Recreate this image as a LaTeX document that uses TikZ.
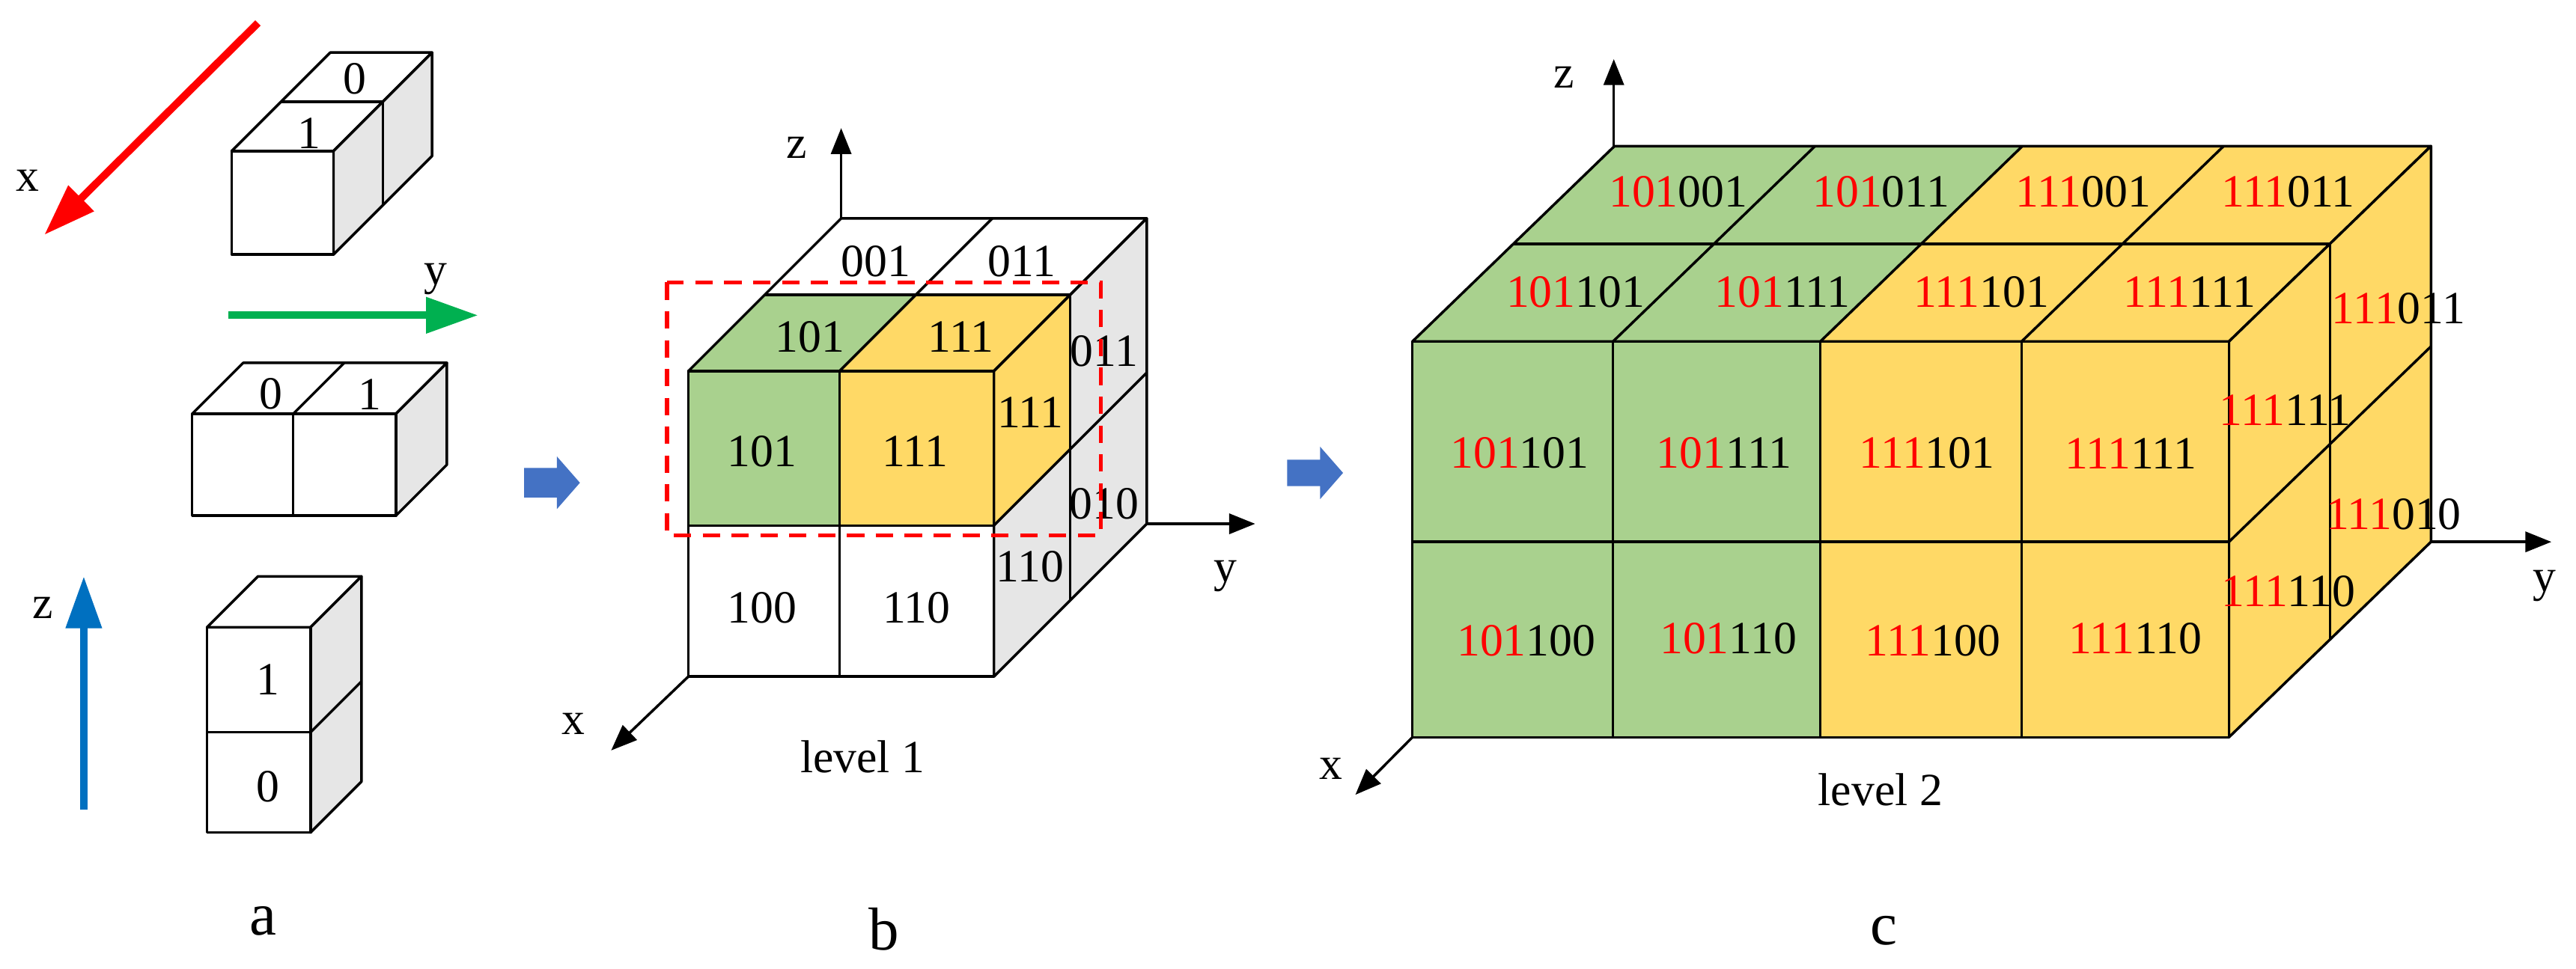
\documentclass[tikz,border=0pt]{standalone}
\usepackage{fontspec}
\setmainfont{Liberation Serif}
\usetikzlibrary{arrows.meta}
\definecolor{cgreen}{HTML}{A9D18E}
\definecolor{cyel}{HTML}{FFD966}
\definecolor{cgray}{HTML}{E6E6E6}
\definecolor{cblue}{HTML}{4472C4}
\definecolor{agreen}{HTML}{00B050}
\definecolor{ablue}{HTML}{0070C0}
\newcommand{\rd}[1]{\textcolor{red}{#1}}
\begin{document}
\begin{tikzpicture}[x=0.02cm,y=-0.02cm,
  ln/.style={draw=black,line width=0.9pt,line join=round},
  lb/.style={font=\fontsize{16}{17}\selectfont,inner sep=0pt},
  big/.style={font=\fontsize{21}{22}\selectfont,inner sep=0pt},
  ax/.style={line width=0.9pt,-{Triangle[length=9pt,width=7pt]}},
  col/.style={line width=2.6pt,-{Triangle[length=18pt,width=12pt]}},
  blk/.style={fill=cblue,draw=none}]
\useasboundingbox (0,0) rectangle (1568,590);
% ---------- panel a ----------
\coordinate (xr0) at (157,14); \coordinate (xr1) at (27,143);
\draw[col,red] (xr0) -- (xr1);
\node[lb] (ax1) at (17,110) {x};
\draw[ln,fill=white] (141,92) -- (203,92) -- (263,32) -- (201,32) -- cycle;
\draw[ln] (171,62) -- (233,62);
\draw[ln,fill=cgray] (203,92) -- (263,32) -- (263,95) -- (203,155) -- cycle;
\draw[ln] (233,62) -- (233,125);
\draw[ln,fill=white] (141,92) rectangle (203,155);
\node[lb] (a1) at (188,81) {1};
\node[lb] (a0) at (216,48) {0};
\coordinate (yg0) at (139,192); \coordinate (yg1) at (291,192);
\draw[col,agreen] (yg0) -- (yg1);
\node[lb] (ay1) at (265,170) {y};
\draw[ln,fill=white] (117,252) -- (241,252) -- (272,221) -- (148,221) -- cycle;
\draw[ln] (178.5,252) -- (209.5,221);
\draw[ln,fill=cgray] (241,252) -- (272,221) -- (272,283) -- (241,314) -- cycle;
\draw[ln,fill=white] (117,252) rectangle (241,314);
\draw[ln] (178.5,252) -- (178.5,314);
\node[lb] (b0) at (165,240) {0};
\node[lb] (b1) at (225,240) {1};
\coordinate (zb0) at (51,493); \coordinate (zb1) at (51,351);
\draw[col,ablue] (zb0) -- (zb1);
\node[lb] (az1) at (26,370) {z};
\draw[ln,fill=white] (126,382) -- (189,382) -- (220,351) -- (157,351) -- cycle;
\draw[ln,fill=cgray] (189,382) -- (220,351) -- (220,476) -- (189,507) -- cycle;
\draw[ln] (189,446) -- (220,415);
\draw[ln,fill=white] (126,382) rectangle (189,507);
\draw[ln] (126,446) -- (189,446);
\node[lb] (c1) at (163,414) {1};
\node[lb] (c0) at (163,479) {0};
\node[big] (la) at (160,561) {a};
\fill[blk] (319,285) -- (339,285) -- (339,278) -- (353,294) -- (339,310) -- (339,303) -- (319,303) -- cycle;
% ---------- panel b ----------
\coordinate (bz0) at (512,133); \coordinate (bz1) at (512,78);
\draw[ax] (bz0) -- (bz1);
\node[lb] (bzl) at (485,90) {z};
\fill[white] (465.5,179.5) -- (651.5,179.5) -- (698,133) -- (512,133) -- cycle;
\fill[cgreen] (419,226) -- (511,226) -- (557.5,179.5) -- (465.5,179.5) -- cycle;
\fill[cyel] (511,226) -- (605,226) -- (651.5,179.5) -- (557.5,179.5) -- cycle;
\draw[ln] (419,226) -- (605,226) -- (698,133) -- (512,133) -- cycle;
\draw[ln] (465.5,179.5) -- (651.5,179.5);
\draw[ln] (511,226) -- (604,133);
\fill[cgray] (605,226) -- (698,133) -- (698,319) -- (605,412) -- cycle;
\fill[cyel] (605,226) -- (651.5,179.5) -- (651.5,273.5) -- (605,320) -- cycle;
\draw[ln] (605,226) -- (698,133) -- (698,319) -- (605,412) -- cycle;
\draw[ln] (651.5,179.5) -- (651.5,365.5);
\draw[ln] (605,320) -- (698,227);
\fill[cgreen] (419,226) rectangle (511,320);
\fill[cyel] (511,226) rectangle (605,320);
\fill[white] (419,320) rectangle (605,412);
\draw[ln] (419,226) rectangle (605,412);
\draw[ln] (511,226) -- (511,412);
\draw[ln] (419,320) -- (605,320);
\coordinate (by0) at (698,319); \coordinate (by1) at (764,319);
\draw[ax] (by0) -- (by1);
\node[lb] (byl) at (746,351) {y};
\coordinate (bx0) at (419,412); \coordinate (bx1) at (372,457);
\draw[ax] (bx0) -- (bx1);
\node[lb] (bxl) at (349,441) {x};
\node[lb] (t001) at (533,159) {001};
\node[lb] (t011) at (622,159) {011};
\node[lb] (t101) at (493,205) {101};
\node[lb] (t111) at (585,205) {111};
\node[lb] (s011) at (672,214) {011};
\node[lb] (s111) at (627,251) {111};
\node[lb] (s010) at (672,307) {010};
\node[lb] (s110) at (627,345) {110};
\node[lb] (f101) at (464,275) {101};
\node[lb] (f111) at (557,275) {111};
\node[lb] (f100) at (464,370) {100};
\node[lb] (f110) at (558,370) {110};
\draw[red,line width=1.4pt,dash pattern=on 6pt off 4pt] (406,172) rectangle (670,326);
\node[lb] (lv1) at (525,461) {level 1};
\node[big] (lbb) at (538,566) {b};
\fill[blk] (783.5,280) -- (803.5,280) -- (803.5,272) -- (817.5,288) -- (803.5,304) -- (803.5,296) -- (783.5,296) -- cycle;
% ---------- panel c ----------
\coordinate (cz0) at (982.3,89); \coordinate (cz1) at (982.3,36);
\draw[ax] (cz0) -- (cz1);
\node[lb] (czl) at (952,47) {z};
\fill[cgreen] (859.7,208) -- (1108,208) -- (1231,89) -- (982.7,89) -- cycle;
\fill[cyel] (1108,208) -- (1356.7,208) -- (1479.7,89) -- (1231,89) -- cycle;
\draw[ln] (859.7,208) -- (1356.7,208) -- (1479.7,89) -- (982.7,89) -- cycle;
\draw[ln] (921.2,148.5) -- (1418.2,148.5);
\foreach \xx in {981.8,1108,1230.5} \draw[ln] (\xx,208) -- ++(123,-119);
\fill[cyel] (1356.7,208) -- (1479.7,89) -- (1479.7,330) -- (1356.7,449) -- cycle;
\draw[ln] (1356.7,208) -- (1479.7,89) -- (1479.7,330) -- (1356.7,449) -- cycle;
\draw[ln] (1418.2,148.5) -- (1418.2,389.5);
\draw[ln] (1356.7,330) -- (1479.7,211);
\fill[cgreen] (859.7,208) rectangle (1108,449);
\fill[cyel] (1108,208) rectangle (1356.7,449);
\draw[ln] (859.7,208) rectangle (1356.7,449);
\foreach \xx in {981.8,1108,1230.5} \draw[ln] (\xx,208) -- (\xx,449);
\draw[ln] (859.7,330) -- (1356.7,330);
\coordinate (cy0) at (1479.7,330); \coordinate (cy1) at (1553,330);
\draw[ax] (cy0) -- (cy1);
\node[lb] (cyl) at (1549,357) {y};
\coordinate (cx0) at (859.7,449); \coordinate (cx1) at (825,484);
\draw[ax] (cx0) -- (cx1);
\node[lb] (cxl) at (810,468) {x};
\node[lb] (u1) at (1021.5,117) {\rd{101}001};
\node[lb] (u2) at (1145,117) {\rd{101}011};
\node[lb] (u3) at (1268,117) {\rd{111}001};
\node[lb] (u4) at (1392.8,117) {\rd{111}011};
\node[lb] (v1) at (959,178) {\rd{101}101};
\node[lb] (v2) at (1085,178) {\rd{101}111};
\node[lb] (v3) at (1206,178) {\rd{111}101};
\node[lb] (v4) at (1332.8,178) {\rd{111}111};
\node[lb] (w1) at (925,276) {\rd{101}101};
\node[lb] (w2) at (1049.5,276) {\rd{101}111};
\node[lb] (w3) at (1173,276) {\rd{111}101};
\node[lb] (w4) at (1297,276) {\rd{111}111};
\node[lb] (q1) at (929,390) {\rd{101}100};
\node[lb] (q2) at (1052,389) {\rd{101}110};
\node[lb] (q3) at (1176.6,390) {\rd{111}100};
\node[lb] (q4) at (1299.7,389) {\rd{111}110};
\node[lb] (r1) at (1460,188) {\rd{111}011};
\node[lb] (r2) at (1391,250) {\rd{111}111};
\node[lb] (r3) at (1457,313) {\rd{111}010};
\node[lb] (r4) at (1393,360) {\rd{111}110};
\node[lb] (lv2) at (1144.6,481) {level 2};
\node[big] (lbc) at (1146.6,567) {c};
\end{tikzpicture}
\end{document}
